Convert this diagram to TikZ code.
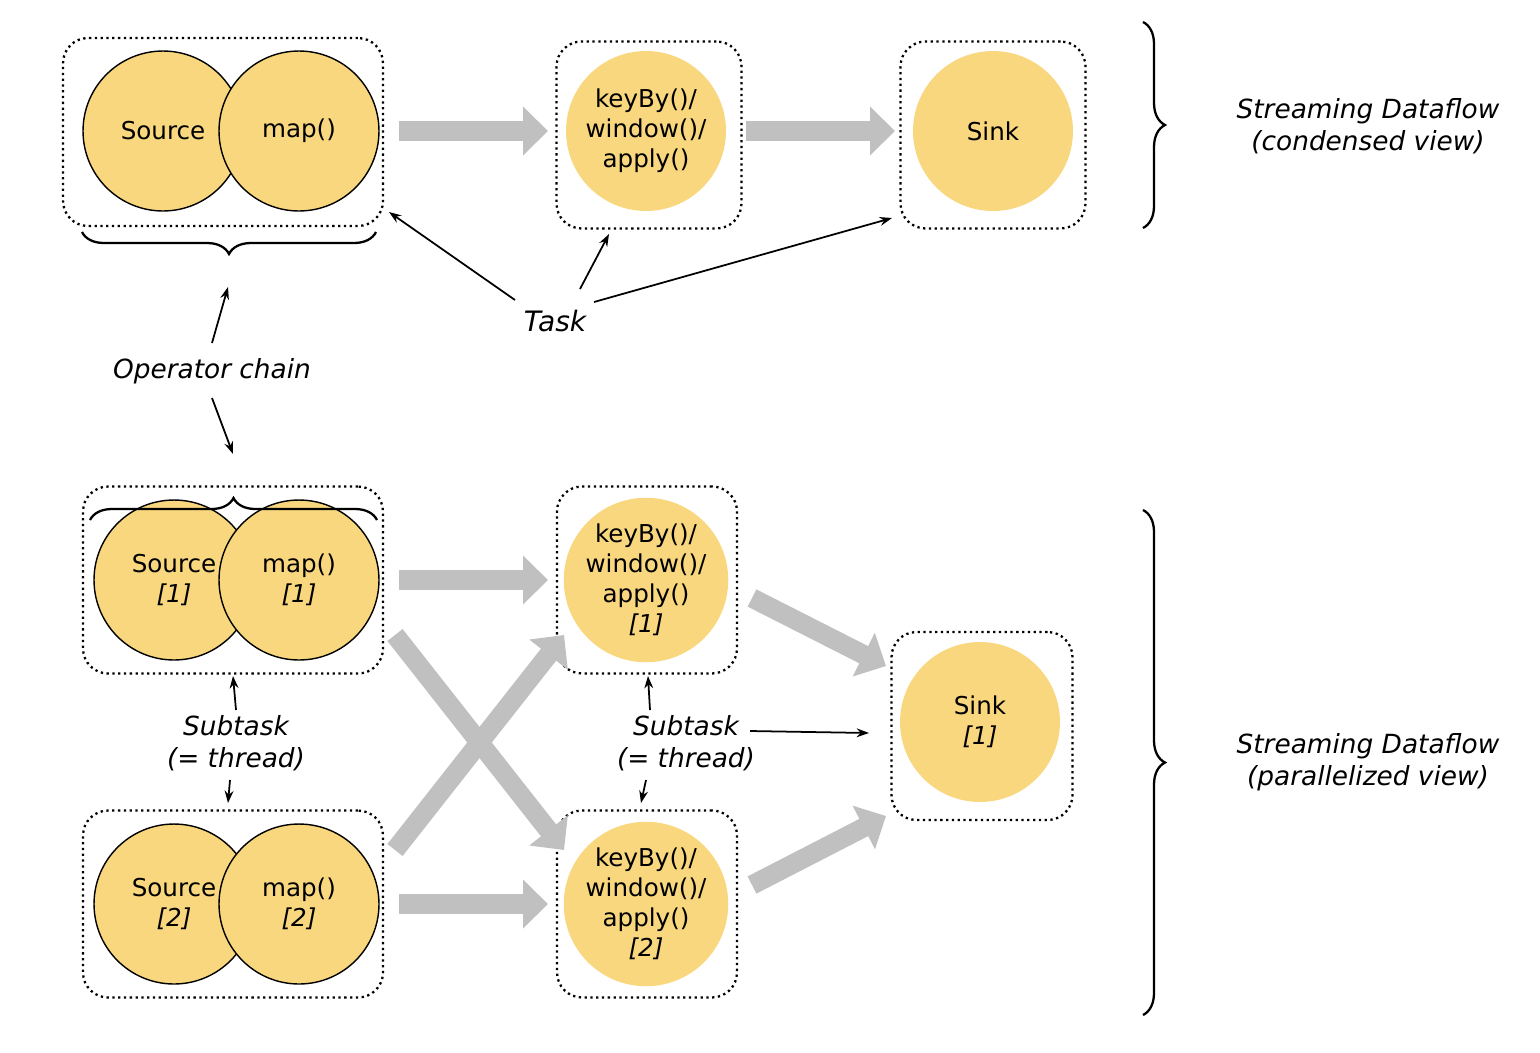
\documentclass[tikz,border=0pt]{standalone}
\usepackage{fontspec}
\setmainfont{DejaVu Sans}
\usetikzlibrary{arrows.meta,decorations.pathreplacing}
\definecolor{op}{HTML}{F9D77E}
\definecolor{flow}{HTML}{C0C0C0}
\begin{document}
\begin{tikzpicture}[x=0.02cm,y=-0.02cm,
 box/.style={draw,dotted,line width=1.3pt,rounded corners=0.5cm,inner sep=0},
 op/.style={circle,fill=op,minimum size=3.2cm,inner sep=0,font=\fontsize{14}{17}\selectfont,align=center},
 opb/.style={op,draw,line width=0.8pt},
 flowarr/.style={draw=flow,line width=11pt,-{Triangle[length=0.5cm,width=0.95cm]},shorten >=0pt},
 thin/.style={line width=1pt,-{Stealth[length=7pt,width=5pt]}},
 lbl/.style={font=\fontsize{15}{18}\selectfont\itshape,align=center},
 br/.style={decorate,decoration={brace,amplitude=0.44cm},line width=1.3pt}]
\useasboundingbox (0,0) rectangle (1540,1052);
% top row
\node[box,minimum width=6.4cm,minimum height=3.76cm] (A) at (223,132) {};
\node[opb] (src) at (163,131) {Source};
\node[opb] (map) at (299,131) {map()};
\node[box,minimum width=3.7cm,minimum height=3.74cm] (B) at (649,135) {};
\node[op] (kw) at (646,131) {keyBy()/\\window()/\\apply()};
\node[box,minimum width=3.7cm,minimum height=3.74cm] (C) at (993,135) {};
\node[op] (sink) at (993,131) {Sink};
\coordinate (a1) at (399,131); \coordinate (a2) at (548,131);
\coordinate (a3) at (746,131); \coordinate (a4) at (895,131);
\draw[flowarr] (a1) -- (a2);
\draw[flowarr] (a3) -- (a4);
\draw[br] (1143,22) -- (1143,228);
\node[lbl] (sd1) at (1368,126) {Streaming Dataflow\\(condensed view)};
\draw[br] (376,232) -- (82,232);
\node[lbl] (oc) at (212,371) {Operator chain};
\node[lbl,font=\fontsize{16}{19}\selectfont\itshape] (task) at (555,321) {Task};
\coordinate (ta) at (389,212); \coordinate (tb) at (609,234); \coordinate (tc) at (892,218);
\draw[thin] (515,300) -- (ta);
\draw[thin] (580,289) -- (tb);
\draw[thin] (594,302) -- (tc);
\coordinate (oca) at (228,287); \coordinate (ocb) at (233,454);
\draw[thin] (212,343) -- (oca);
\draw[thin] (212,398) -- (ocb);
% bottom
\node[box,minimum width=6cm,minimum height=3.74cm] (D) at (233,580) {};
\node[opb] (s1) at (174,580) {Source\\\textit{[1]}};
\node[opb] (m1) at (299,580) {map()\\\textit{[1]}};
\node[box,minimum width=3.6cm,minimum height=3.74cm] (E) at (647,580) {};
\node[op] (k1) at (646,580) {keyBy()/\\window()/\\apply()\\\textit{[1]}};
\node[box,minimum width=6cm,minimum height=3.74cm] (F) at (233,904) {};
\node[opb] (s2) at (174,904) {Source\\\textit{[2]}};
\node[opb] (m2) at (299,904) {map()\\\textit{[2]}};
\node[box,minimum width=3.6cm,minimum height=3.74cm] (G) at (647,904) {};
\node[op] (k2) at (646,904) {keyBy()/\\window()/\\apply()\\\textit{[2]}};
\node[box,minimum width=3.62cm,minimum height=3.76cm] (H) at (982,726) {};
\node[op] (sk1) at (980,722) {Sink\\\textit{[1]}};
\draw[br] (90,520) -- (377,520);
\coordinate (b1) at (399,580); \coordinate (b2) at (548,580);
\coordinate (b3) at (399,904); \coordinate (b4) at (548,904);
\coordinate (c1) at (395,635); \coordinate (c2) at (564,850);
\coordinate (c3) at (395,850); \coordinate (c4) at (564,635);
\coordinate (d1) at (752,598); \coordinate (d2) at (886,666);
\coordinate (d3) at (752,885); \coordinate (d4) at (886,816);
\draw[flowarr] (b1) -- (b2);
\draw[flowarr] (b3) -- (b4);
\draw[flowarr] (c1) -- (c2);
\draw[flowarr] (c3) -- (c4);
\draw[flowarr] (d1) -- (d2);
\draw[flowarr] (d3) -- (d4);
\node[lbl] (st1) at (236,743) {Subtask\\(= thread)};
\node[lbl] (st2) at (686,743) {Subtask\\(= thread)};
\coordinate (e1) at (233,676); \coordinate (e2) at (228,803);
\coordinate (e3) at (648,676); \coordinate (e4) at (641,803); \coordinate (e5) at (869,733);
\draw[thin] (236,710) -- (e1);
\draw[thin] (230,780) -- (e2);
\draw[thin] (650,710) -- (e3);
\draw[thin] (646,780) -- (e4);
\draw[thin] (750,731) -- (e5);
\draw[br] (1143,510) -- (1143,1015);
\node[lbl] (sd2) at (1368,762) {Streaming Dataflow\\(parallelized view)};
\end{tikzpicture}
\end{document}
